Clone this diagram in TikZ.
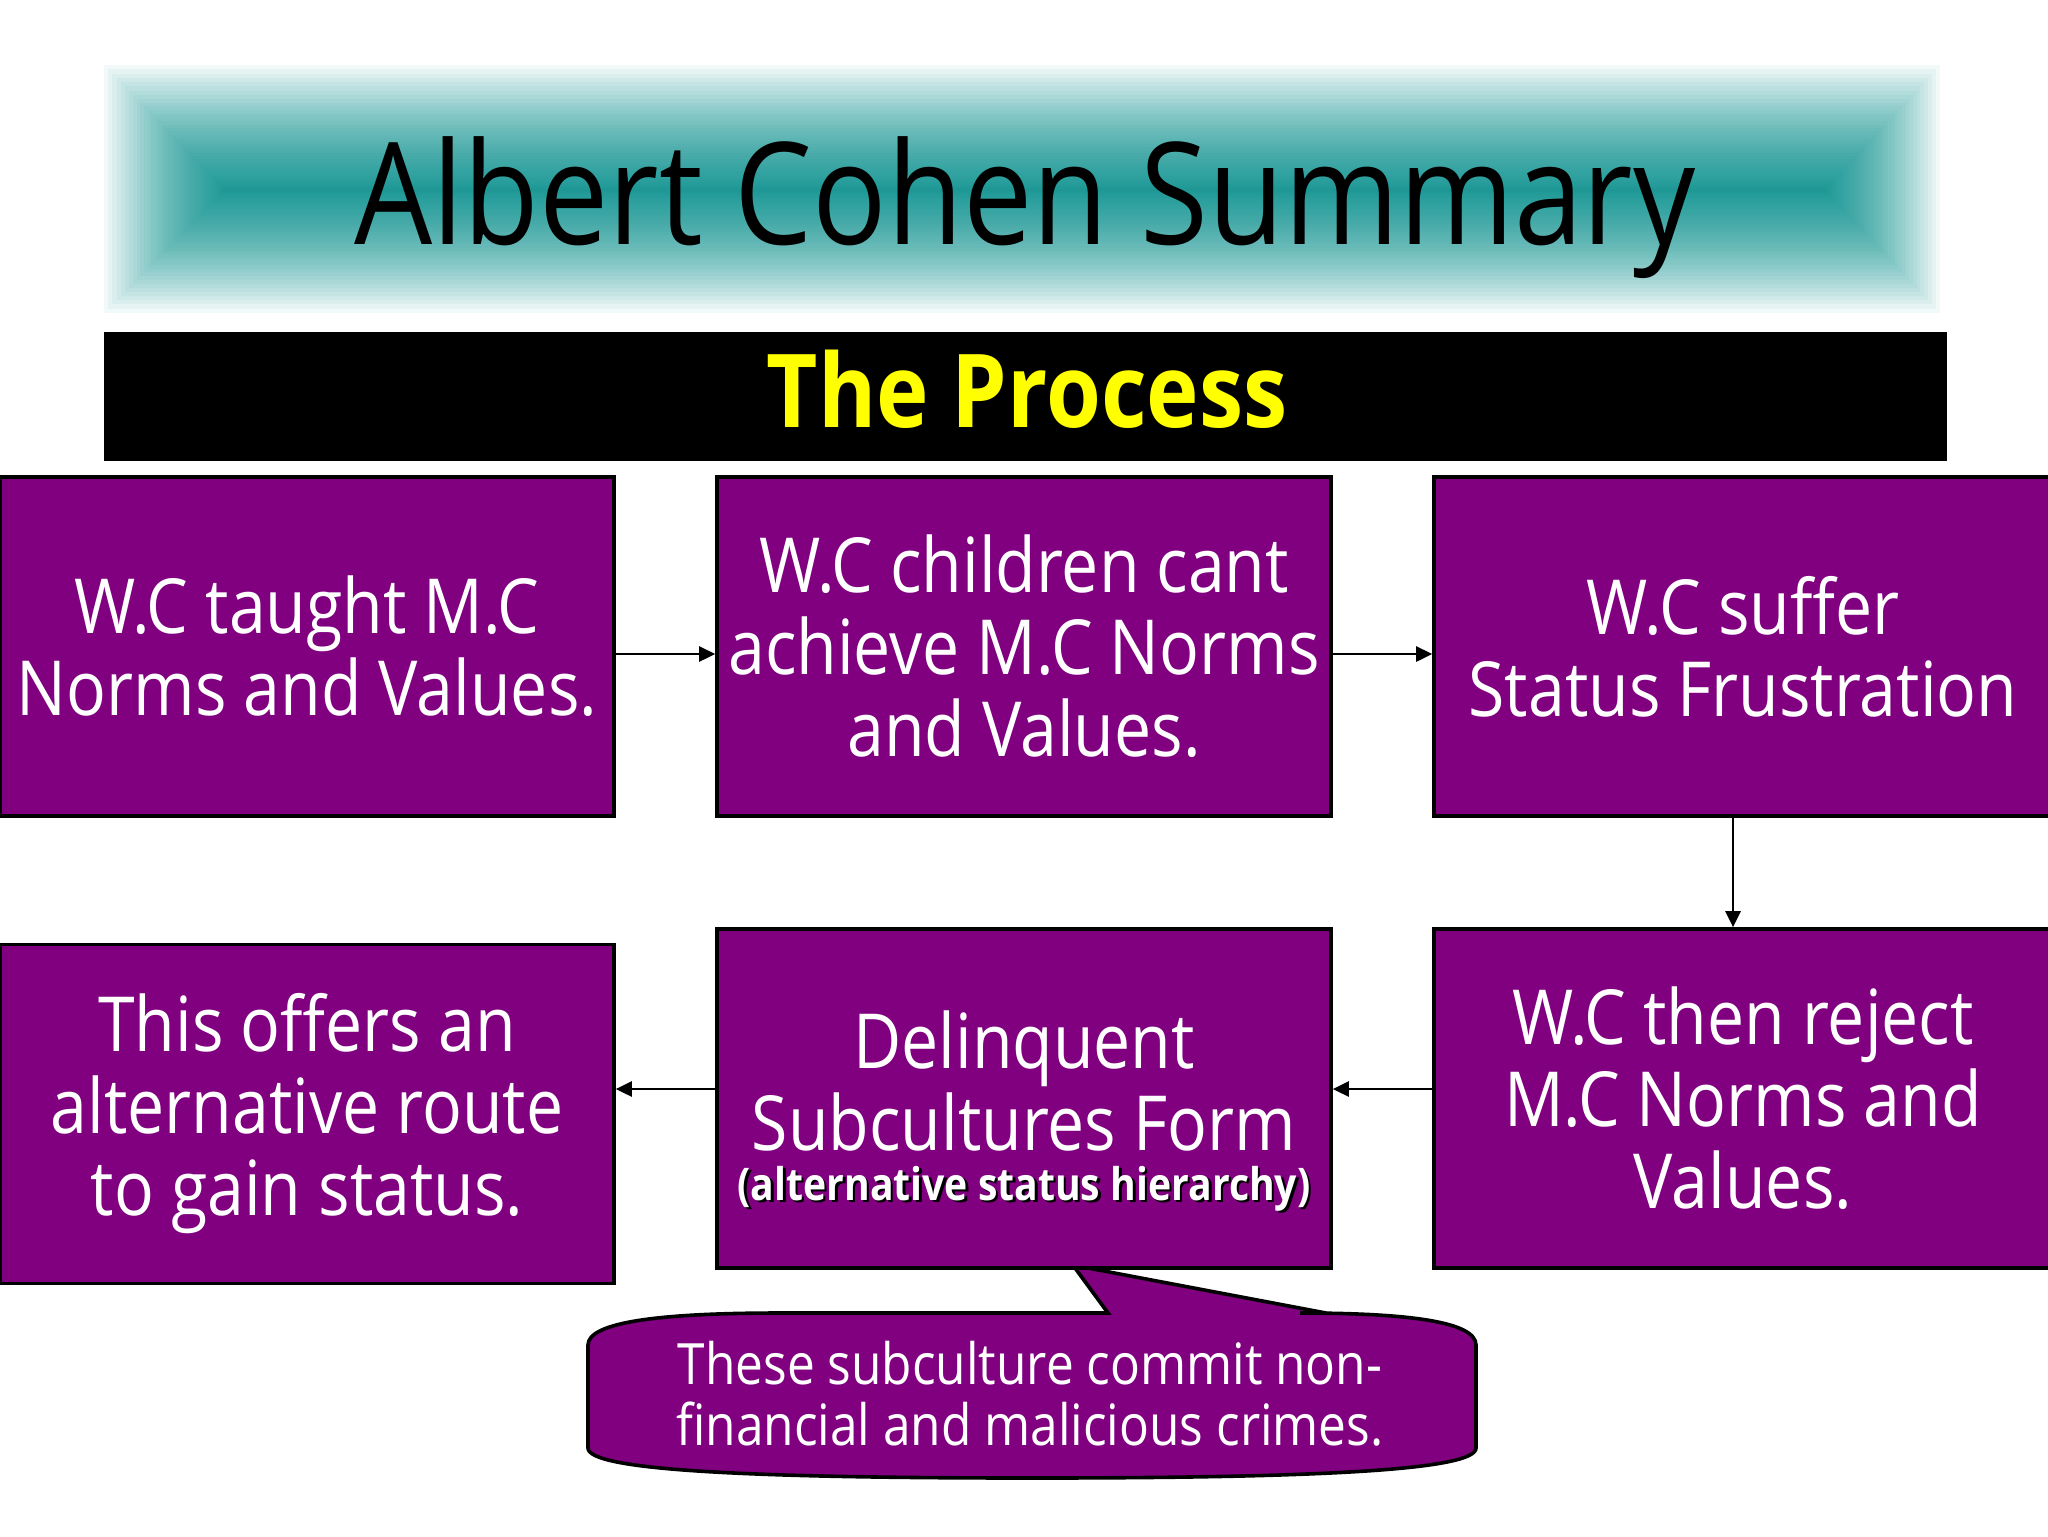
\documentclass[tikz,border=0pt]{standalone}
\usepackage{fontspec}
\setmainfont{Open Sans}[FakeStretch=0.87]
\usetikzlibrary{arrows.meta}
\definecolor{boxpurple}{RGB}{128,0,128}
\definecolor{tealband}{RGB}{14,150,148}
\definecolor{procyellow}{RGB}{255,255,0}
\newcommand\shtext[1]{\rlap{\textcolor{black}{\kern1.3pt\raisebox{-1.3pt}{#1}}}#1}
\begin{document}
\begin{tikzpicture}[x=0.5pt,y=-0.5pt,
  box/.style={draw=black, line width=1.8pt, fill=boxpurple, inner sep=0pt,
    minimum width=307pt, minimum height=169.5pt,
    text=white, align=center, font=\fontsize{38}{41}\selectfont},
  conn/.style={draw=black, line width=1.3pt, -{Triangle[length=8pt,width=7.5pt]}},
  calloutshape/.style={draw=black, line width=1.8pt, fill=boxpurple, line join=miter},
]
\useasboundingbox[fill=white] (0,0) rectangle (2048,1536);

% title gradient band
\foreach \k in {0,...,44}{
  \pgfmathsetmacro{\f}{1-(1-\k/45)^1.6}
  \fill[tealband, opacity=0.05]
    ({104+\f*(225-104)},{65+\f*(190-65)}) rectangle ({1940-\f*(1940-1825)},{313-\f*(313-190)});
}
\node[anchor=base, inner sep=0pt, font=\fontsize{71}{71}\selectfont] (title) at (1025,244) {Albert Cohen Summary};

% black bar
\node[fill=black, inner sep=0pt, minimum width=921.5pt, minimum height=64.5pt] (bar) at (1025.5,396.5) {};
\node[anchor=base, inner sep=0pt, text=procyellow, font=\bfseries\fontsize{51}{51}\selectfont] (proc) at (1027,427) {The Process};

% boxes
\node[box] (b1) at (307,646.5) {W.C taught M.C\\Norms and Values.};
\node[box] (b2) at (1024,646.5) {W.C children cant\\achieve M.C Norms\\and Values.};
\node[box, minimum width=309pt] (b3) at (1743,646.5) {W.C suffer\\Status Frustration};
\node[box] (b4) at (307,1114) {This offers an\\alternative route\\to gain status.};
\node[box] (b5) at (1024,1098.5) {};
\node[box, minimum width=309pt] (b6) at (1743,1098.5) {W.C then reject\\M.C Norms and\\Values.};

\node[align=center, text=white, inner sep=0pt, font=\fontsize{38}{41}\selectfont] (b5t) at (1024,1081)
  {Delinquent\\Subcultures Form};
\node[anchor=base, text=white, inner sep=0pt, font=\bfseries\fontsize{22.5}{22.5}\selectfont] (b5s) at (1024,1200)
  {\shtext{(alternative status hierarchy)}};

% connectors
\coordinate (r1) at (0,654);
\coordinate (r2) at (0,1089);
\draw[conn] (b1.east |- r1) -- (b2.west |- r1);
\draw[conn] (b2.east |- r1) -- (b3.west |- r1);
\coordinate (dx) at (1733,0);
\draw[conn] (b3.south -| dx) -- (b6.north -| dx);
\draw[conn] (b6.west |- r2) -- (b5.east |- r2);
\draw[conn] (b5.west |- r2) -- (b4.east |- r2);

% callout
\draw[calloutshape]
  (588,1345) .. controls (588,1322) and (660,1313) .. (780,1313)
  -- (1108,1313) -- (1075,1268) -- (1088,1268) -- (1326,1313)
  -- (1300,1313) .. controls (1410,1313) and (1476,1322) .. (1476,1345)
  -- (1476,1448) .. controls (1476,1470) and (1320,1478) .. (1032,1478)
  .. controls (744,1478) and (588,1470) .. (588,1448) -- cycle;
\node[align=center, text=white, inner sep=0pt, font=\fontsize{28.5}{30.5}\selectfont] (note) at (1030,1394)
  {These subculture commit non-\\financial and malicious crimes.};
\end{tikzpicture}
\end{document}
